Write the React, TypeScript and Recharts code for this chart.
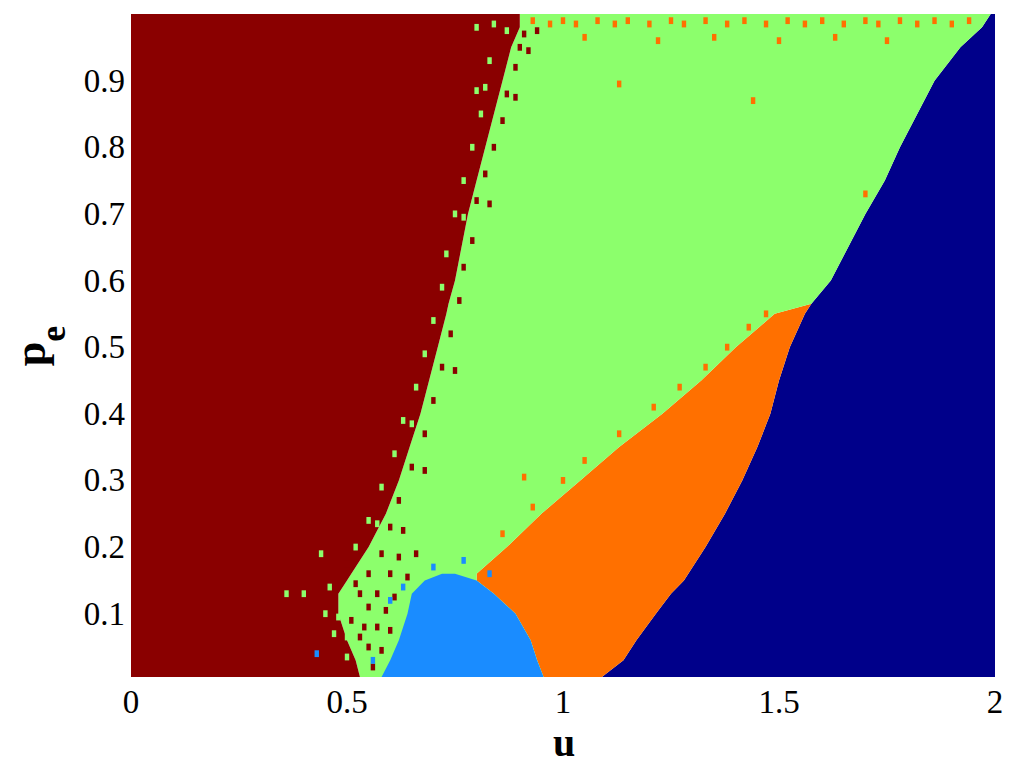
import { ComposedChart, Area, Scatter, XAxis, YAxis } from "recharts";

const P_LEVELS = [0.005, 0.03, 0.06, 0.1, 0.13, 0.15, 0.16, 0.2, 0.25, 0.3, 0.35, 0.4, 0.45, 0.5, 0.55, 0.565, 0.6, 0.65, 0.7, 0.75, 0.8, 0.85, 0.9, 0.95, 0.98, 1.0];

// u where the dark red region ends
const RED_EDGE = [0.53, 0.52, 0.5, 0.48, 0.48, 0.5, 0.51, 0.55, 0.59, 0.62, 0.645, 0.67, 0.69, 0.71, 0.73, 0.735, 0.75, 0.765, 0.78, 0.8, 0.82, 0.84, 0.86, 0.88, 0.9, 0.9];

// light blue island near the bottom
const BLUE_LEFT = [0.58, 0.6, 0.62, 0.64, 0.65, 0.68, 0.72, null, null, null, null, null, null, null, null, null, null, null, null, null, null, null, null, null, null, null];
const BLUE_RIGHT = [0.955, 0.94, 0.925, 0.89, 0.84, 0.8, 0.75, null, null, null, null, null, null, null, null, null, null, null, null, null, null, null, null, null, null, null];

// u where the orange region starts (null = no orange in that row)
const ORANGE_LEFT = [0.955, 0.94, 0.925, 0.89, 0.84, 0.8, 0.8, 0.87, 0.95, 1.04, 1.13, 1.23, 1.32, 1.4, 1.49, null, null, null, null, null, null, null, null, null, null, null];

// u where the navy region starts
const NAVY_EDGE = [1.09, 1.14, 1.17, 1.215, 1.25, 1.28, 1.29, 1.33, 1.375, 1.415, 1.45, 1.48, 1.5, 1.525, 1.56, 1.575, 1.62, 1.66, 1.7, 1.745, 1.78, 1.82, 1.86, 1.92, 1.97, 1.99];

// stray cells [u, p_e] scattered around the boundaries
const RED_SPECKLES = [
  [0.91, 0.97], [0.94, 0.975], [0.9, 0.95], [0.92, 0.945], [0.89, 0.92], [0.87, 0.88], [0.89, 0.875],
  [0.86, 0.84], [0.84, 0.8], [0.82, 0.76], [0.8, 0.72], [0.83, 0.715], [0.79, 0.66], [0.77, 0.62],
  [0.76, 0.57], [0.74, 0.52], [0.72, 0.47], [0.75, 0.465], [0.7, 0.42], [0.68, 0.37], [0.65, 0.32],
  [0.68, 0.315], [0.62, 0.27], [0.6, 0.23], [0.63, 0.225], [0.58, 0.19], [0.62, 0.185], [0.66, 0.19],
  [0.55, 0.16], [0.6, 0.16], [0.64, 0.155], [0.53, 0.13], [0.57, 0.13], [0.61, 0.125], [0.55, 0.11],
  [0.59, 0.105], [0.54, 0.08], [0.57, 0.08], [0.6, 0.075], [0.55, 0.05], [0.58, 0.045], [0.56, 0.02],
  [0.5, 0.175], [0.52, 0.145], [0.51, 0.09], [0.53, 0.065],
];
const GREEN_SPECKLES = [
  [0.8, 0.98], [0.84, 0.985], [0.87, 0.975], [0.83, 0.93], [0.82, 0.89], [0.8, 0.885], [0.81, 0.85],
  [0.79, 0.8], [0.77, 0.75], [0.75, 0.7], [0.77, 0.695], [0.73, 0.64], [0.72, 0.59], [0.7, 0.54],
  [0.68, 0.49], [0.66, 0.44], [0.63, 0.39], [0.65, 0.385], [0.61, 0.34], [0.58, 0.29], [0.55, 0.24],
  [0.57, 0.235], [0.52, 0.2], [0.44, 0.19], [0.46, 0.14], [0.5, 0.135], [0.4, 0.13], [0.36, 0.13],
  [0.45, 0.1], [0.48, 0.095], [0.47, 0.07], [0.5, 0.065], [0.5, 0.035], [0.54, 0.01],
];
const BLUE_SPECKLES = [
  [0.6, 0.12], [0.63, 0.14], [0.7, 0.17], [0.77, 0.18], [0.43, 0.04], [0.56, 0.03], [0.83, 0.16],
];
const ORANGE_SPECKLES = [
  [0.93, 0.99], [0.97, 0.985], [1.0, 0.99], [1.03, 0.985], [1.08, 0.99], [1.12, 0.985], [1.15, 0.99],
  [1.2, 0.985], [1.25, 0.99], [1.28, 0.985], [1.33, 0.99], [1.38, 0.985], [1.42, 0.99], [1.47, 0.985],
  [1.52, 0.99], [1.56, 0.985], [1.6, 0.99], [1.65, 0.985], [1.7, 0.99], [1.73, 0.985], [1.78, 0.99],
  [1.82, 0.985], [1.86, 0.99], [1.9, 0.985], [1.94, 0.99], [1.05, 0.965], [1.22, 0.96], [1.35, 0.965],
  [1.5, 0.96], [1.63, 0.965], [1.75, 0.96], [1.13, 0.895], [1.44, 0.87], [1.7, 0.73],
  [0.86, 0.22], [0.91, 0.305], [0.93, 0.26], [1.0, 0.3], [1.05, 0.33], [1.13, 0.37], [1.21, 0.41],
  [1.27, 0.44], [1.33, 0.47], [1.38, 0.5], [1.43, 0.53], [1.47, 0.55],
];

const X_TICKS = [0, 0.5, 1, 1.5, 2];
const Y_TICKS = [0.1, 0.2, 0.3, 0.4, 0.5, 0.6, 0.7, 0.8, 0.9];

const COLORS = {
  red: "#8a0000",
  green: "#8cff6c",
  blue: "#1a8cff",
  orange: "#ff7000",
  navy: "#00008a",
};

const FONT = "'Liberation Serif', 'Times New Roman', serif";

const rows = P_LEVELS.map((p, i) => {
  const orangeLeft = ORANGE_LEFT[i] ?? NAVY_EDGE[i];
  return {
    p,
    red: [0, RED_EDGE[i]],
    green: [RED_EDGE[i], orangeLeft],
    blue: BLUE_LEFT[i] == null ? null : [BLUE_LEFT[i], BLUE_RIGHT[i]],
    orange: [orangeLeft, NAVY_EDGE[i]],
    navy: [NAVY_EDGE[i], 2],
  };
});

const toPoints = (list: number[][]) => list.map(([u, p]) => ({ u, p }));

// one grid cell is 0.01 wide in u and 0.01 tall in p_e
const cell = (color: string) => (props: any) => (
  <rect x={props.cx - 2.2} y={props.cy - 3.4} width={4.4} height={6.8} fill={color} />
);

const XTick = ({ x, y, payload }: any) => (
  <text x={x} y={y + 36} textAnchor="middle" fontFamily={FONT} fontSize={33} fill="#000">
    {String(payload.value)}
  </text>
);

const YTick = ({ x, y, payload }: any) => (
  <text x={x - 6} y={y + 11} textAnchor="end" fontFamily={FONT} fontSize={33} fill="#000">
    {payload.value.toFixed(1)}
  </text>
);

const XLabel = () => (
  <text x={564} y={756} textAnchor="middle" fontFamily={FONT} fontSize={40} fontWeight="bold" fill="#000">
    u
  </text>
);

const YLabel = () => (
  <text
    x={45}
    y={346}
    transform="rotate(-90, 45, 346)"
    textAnchor="middle"
    fontFamily={FONT}
    fontWeight="bold"
    fill="#000"
  >
    <tspan fontSize={44}>p</tspan>
    <tspan fontSize={36} dy={20}>e</tspan>
  </text>
);

export default function App() {
  return (
    <div style={{ position: "absolute", left: 0, top: 0, width: 1015, height: 769, background: "#fff" }}>
      <ComposedChart
        width={1015}
        height={769}
        data={rows}
        layout="vertical"
        margin={{ top: 14, right: 20, bottom: 0, left: 0 }}
      >
        <XAxis
          type="number"
          domain={[0, 2]}
          allowDataOverflow
          ticks={X_TICKS}
          tick={<XTick />}
          tickSize={0}
          tickMargin={0}
          tickLine={false}
          axisLine={false}
          height={92}
          label={<XLabel />}
        />
        <YAxis
          type="number"
          dataKey="p"
          domain={[0.005, 1]}
          allowDataOverflow
          reversed
          ticks={Y_TICKS}
          tick={<YTick />}
          tickSize={0}
          tickMargin={0}
          tickLine={false}
          axisLine={false}
          width={131}
          label={<YLabel />}
        />
        <Area type="linear" dataKey="navy" fill={COLORS.navy} fillOpacity={1} stroke="none" dot={false} activeDot={false} isAnimationActive={false} />
        <Area type="linear" dataKey="orange" fill={COLORS.orange} fillOpacity={1} stroke="none" dot={false} activeDot={false} isAnimationActive={false} />
        <Area type="linear" dataKey="green" fill={COLORS.green} fillOpacity={1} stroke="none" dot={false} activeDot={false} isAnimationActive={false} />
        <Area type="linear" dataKey="blue" fill={COLORS.blue} fillOpacity={1} stroke="none" dot={false} activeDot={false} isAnimationActive={false} />
        <Area type="linear" dataKey="red" fill={COLORS.red} fillOpacity={1} stroke="none" dot={false} activeDot={false} isAnimationActive={false} />
        <Scatter data={toPoints(RED_SPECKLES)} dataKey="u" shape={cell(COLORS.red)} isAnimationActive={false} />
        <Scatter data={toPoints(GREEN_SPECKLES)} dataKey="u" shape={cell(COLORS.green)} isAnimationActive={false} />
        <Scatter data={toPoints(BLUE_SPECKLES)} dataKey="u" shape={cell(COLORS.blue)} isAnimationActive={false} />
        <Scatter data={toPoints(ORANGE_SPECKLES)} dataKey="u" shape={cell(COLORS.orange)} isAnimationActive={false} />
      </ComposedChart>
    </div>
  );
}
